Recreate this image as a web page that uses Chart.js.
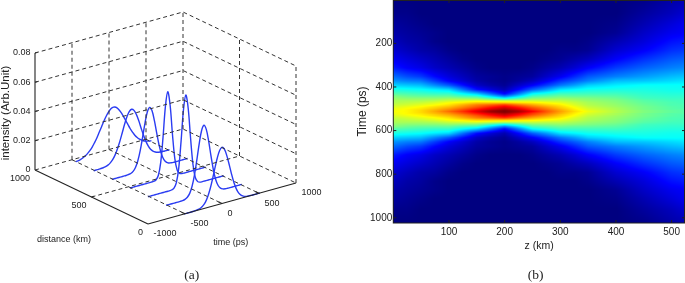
<!DOCTYPE html>
<html>
<head>
<meta charset="utf-8">
<script src="https://cdn.jsdelivr.net/npm/chart.js@4"></script>
<style>
  html, body { margin: 0; padding: 0; background: #fff; }
  body { position: relative; width: 685px; height: 283px; overflow: hidden; }
  canvas { position: absolute; top: 0; filter: blur(0.35px); }
  #waterfall { left: 0; }
  #heatmap { left: 340px; }
</style>
</head>
<body>
<canvas id="waterfall" width="340" height="283"></canvas>
<canvas id="heatmap" width="345" height="283"></canvas>
<script>
// Panel (a): pulse intensity at seven distances
const curveTimes = [-512,-480,-448,-416,-384,-352,-320,-288,-256,-224,-192,-160,-128,-96,-64,-32,0,32,64,96,128,160,192,224,256,288,320,352,384,416,448,480,512];
const curveDistances = [960, 800, 640, 480, 320, 160, 0];
const curve960 = [.0003,.0005,.0009,.0015,.0024,.0036,.0052,.0072,.0098,.0127,.0161,.0195,.0229,.0259,.0283,.0299,.0304,.0299,.0283,.0259,.0229,.0195,.0161,.0127,.0098,.0072,.0052,.0036,.0024,.0015,.0009,.0005,.0003];
const curve800 = [0,.0001,.0001,.0002,.0003,.0006,.0012,.0023,.0040,.0067,.0104,.0150,.0203,.0258,.0305,.0337,.0349,.0337,.0305,.0258,.0203,.0150,.0104,.0067,.0040,.0023,.0012,.0006,.0003,.0002,.0001,.0001,0];
const curve640 = [0,0,0,0,0,0,0,.0002,.0005,.0015,.0037,.0078,.0143,.0229,.0321,.0394,.0421,.0394,.0321,.0229,.0143,.0078,.0037,.0015,.0005,.0002,0,0,0,0,0,0,0];
const curve480 = [0,0,0,0,0,0,0,0,0,0,.0001,.0006,.0032,.0114,.0284,.0490,.0587,.0490,.0284,.0114,.0032,.0006,.0001,0,0,0,0,0,0,0,0,0,0];
const curve320 = [0,0,0,0,0,0,0,0,0,0,.0001,.0009,.0042,.0137,.0319,.0527,.0624,.0527,.0319,.0137,.0042,.0009,.0001,0,0,0,0,0,0,0,0,0,0];
const curve160 = [0,0,0,0,0,0,0,.0001,.0005,.0015,.0037,.0081,.0153,.0251,.0358,.0443,.0476,.0443,.0358,.0251,.0153,.0081,.0037,.0015,.0005,.0001,0,0,0,0,0,0,0];
const curve0 = [0,0,0,0,.0001,.0002,.0004,.0010,.0021,.0041,.0075,.0123,.0185,.0255,.0320,.0367,.0384,.0367,.0320,.0255,.0185,.0123,.0075,.0041,.0021,.0010,.0004,.0002,.0001,0,0,0,0];
const curveValues = [curve960, curve800, curve640, curve480, curve320, curve160, curve0];

const timeTicks = [-1000, -500, 0, 500, 1000];
const distanceTicks = [0, 500, 1000];
const intensityTicks = [0, 0.02, 0.04, 0.06, 0.08];
const intensityLabels = ['0', '0.02', '0.04', '0.06', '0.08'];

// Panel (b): value (percent of the colour range) per distance column,
// rows are |t - 512| and the lower half mirrors the upper one
const cellDistances = [1, 25, 50, 75, 100, 125, 150, 175, 200, 225, 250, 275, 300, 325, 350, 400, 450, 500, 524];
const cellOffsets = [0, 5, 10, 15, 20, 30, 40, 50, 60, 70, 80, 100, 120, 140, 160, 200, 240, 280, 320, 360, 400, 450, 512];
const cellRows = [
  [62,63,66,71,77,83,90,97,100,96,88,79,72,66,61,55,50,47,46],
  [61,63,66,70,75,81,88,95,99,94,85,78,71,65,60,55,50,47,46],
  [61,63,65,69,73,79,85,91,96,90,82,76,70,64,59,54,49,46,46],
  [60,62,64,67,71,76,82,88,93,87,80,74,68,63,58,54,49,46,45],
  [59,61,63,66,69,74,79,85,90,84,77,72,67,62,57,53,49,46,45],
  [57,58,60,62,65,70,75,78,82,76,71,67,64,59,55,52,48,45,45],
  [55,56,57,59,62,64,67,67,67,65,64,62,60,57,54,51,47,45,44],
  [54,54,54,55,57,58,59,57,55,56,57,56,56,54,52,50,46,44,44],
  [52,51,51,51,52,51,50,44,38,44,50,51,52,51,50,48,44,43,43],
  [50,48,47,47,47,44,42,33,24,34,44,46,48,47,47,46,43,42,42],
  [46,45,44,43,43,38,33,23,13,25,38,41,44,44,44,44,42,41,41],
  [40,39,38,36,34,24,14,9,5,13,22,28,35,37,39,40,40,39,39],
  [33,32,31,26,21,14,7,4,2,7,12,18,24,28,33,36,38,38,38],
  [27,25,24,18,12,8,4,2,1,3,6,11,17,21,25,31,32,34,35],
  [23,20,18,13,9,6,3,2,1,2,3,7,11,16,21,25,28,31,32],
  [15,12,10,7,5,3,1,0,0,0,1,3,5,8,12,18,22,25,26],
  [11,9,7,5,3,1,0,0,0,0,0,1,2,4,6,12,17,21,22],
  [8,6,4,3,1,0,0,0,0,0,0,0,1,1,2,8,12,17,18],
  [6,4,3,1,0,0,0,0,0,0,0,0,0,0,1,5,9,14,15],
  [4,3,2,1,0,0,0,0,0,0,0,0,0,0,0,2,7,11,12],
  [3,2,1,0,0,0,0,0,0,0,0,0,0,0,0,1,5,9,11],
  [1,1,0,0,0,0,0,0,0,0,0,0,0,0,0,0,3,6,8],
  [0,0,0,0,0,0,0,0,0,0,0,0,0,0,0,0,1,4,5],
];
const cellCentre = 512;
const zTicks = [100, 200, 300, 400, 500];
const timeAxisTicks = [200, 400, 600, 800, 1000];

const FONT = '"Liberation Sans", Arial, sans-serif';
const TEXT_COLOR = '#222';

// Oblique view of the box in panel (a), result is in canvas units of its hidden scales
function project(t, d, z) {
  return {
    x: 148 + (t + 1000) * 0.074 - d * 0.113,
    y: 224 - (t + 1000) * 0.0205 - d * 0.054 - z * 1462.5,
  };
}

function path(points, style) {
  return Object.assign({
    data: points.map((p) => project(p[0], p[1], p[2])),
    showLine: true,
    pointRadius: 0,
    borderColor: '#333',
    borderWidth: 1,
    borderDash: [4, 3],
    tension: 0,
  }, style);
}

// Grid and axes of the box
function boxDatasets() {
  const sets = [];
  const tMax = timeTicks[timeTicks.length - 1];
  const tMin = timeTicks[0];
  const dMax = distanceTicks[distanceTicks.length - 1];
  const zMax = intensityTicks[intensityTicks.length - 1];
  const solid = { borderDash: [], borderColor: '#222', borderWidth: 1.1 };

  intensityTicks.forEach((z) => {
    sets.push(path([[tMin, dMax, z], [tMax, dMax, z], [tMax, 0, z]]));
    if (z > 0) sets.push(path([[tMin, dMax, z], [tMin + 35, dMax, z]], solid));
  });
  timeTicks.slice(1).forEach((t) => {
    sets.push(path([[t, dMax, 0], [t, dMax, zMax]]));
  });
  distanceTicks.slice(0, 2).forEach((d) => {
    sets.push(path([[tMax, d, 0], [tMax, d, zMax]]));
  });
  timeTicks.slice(1, 4).forEach((t) => {
    sets.push(path([[t, dMax, 0], [t, 0, 0]]));
    sets.push(path([[t, 0, 0], [t, 30, 0]], solid));
  });
  sets.push(path([[tMin, 500, 0], [tMax, 500, 0]]));
  sets.push(path([[tMin, 500, 0], [tMin + 35, 500, 0]], solid));
  sets.push(path([[tMin, dMax, 0], [tMin, dMax, zMax]], solid));
  sets.push(path([[tMin, dMax, 0], [tMin, 0, 0]], solid));
  sets.push(path([[tMin, 0, 0], [tMax, 0, 0]], solid));
  return sets;
}

function curveDatasets() {
  return curveValues.map((values, i) => {
    const points = values.map((v, j) => [curveTimes[j], curveDistances[i], v]);
    return path(points, { borderDash: [], borderColor: '#2a3cf2', borderWidth: 1.4, tension: 0.35 });
  });
}

function drawText(ctx, text, x, y, font, align, rotate) {
  ctx.save();
  ctx.font = font;
  ctx.fillStyle = TEXT_COLOR;
  ctx.textAlign = align || 'center';
  ctx.textBaseline = 'middle';
  ctx.translate(x, y);
  if (rotate) ctx.rotate(rotate);
  ctx.fillText(text, 0, 0);
  ctx.restore();
}

// Tick labels and titles of panel (a), placed from the projected tick positions
const waterfallLabels = {
  id: 'waterfallLabels',
  afterDraw(chart) {
    const ctx = chart.ctx;
    const small = '9px ' + FONT;
    const { x: sx, y: sy } = chart.scales;
    intensityTicks.forEach((z, i) => {
      const p = project(timeTicks[0], distanceTicks[2], z);
      drawText(ctx, intensityLabels[i], sx.getPixelForValue(p.x) - 4.5, sy.getPixelForValue(p.y), small, 'right');
    });
    distanceTicks.forEach((d) => {
      const p = project(timeTicks[0], d, 0);
      drawText(ctx, String(d), sx.getPixelForValue(p.x) - 5, sy.getPixelForValue(p.y) + 9, small, 'right');
    });
    timeTicks.forEach((t) => {
      const p = project(t, 0, 0);
      drawText(ctx, String(t), sx.getPixelForValue(p.x) + 5.5, sy.getPixelForValue(p.y) + 10, small, 'left');
    });
    drawText(ctx, 'distance (km)', 64, 239.5, small);
    drawText(ctx, 'time (ps)', 230.7, 243, small);
    drawText(ctx, 'intensity (Arb.Unit)', 5.5, 113, '11.5px ' + FONT, 'center', -Math.PI / 2);
    drawText(ctx, '(a)', 191.7, 275, '13.5px "Liberation Serif", serif');
  },
};

new Chart(document.getElementById('waterfall'), {
  type: 'scatter',
  data: { datasets: boxDatasets().concat(curveDatasets()) },
  options: {
    responsive: false,
    animation: false,
    layout: { padding: 0 },
    plugins: { legend: { display: false }, tooltip: { enabled: false } },
    scales: {
      x: { display: false, min: 0, max: 340 },
      y: { display: false, min: 0, max: 283, reverse: true },
    },
  },
  plugins: [waterfallLabels],
});

// Position of v between the two neighbours in a sorted list
function locate(list, v) {
  let i = 0;
  while (i < list.length - 2 && list[i + 1] < v) i++;
  const f = (v - list[i]) / (list[i + 1] - list[i]);
  return [i, Math.max(0, Math.min(1, f))];
}

function cellValue(z, t) {
  const [c, fc] = locate(cellDistances, z);
  const [r, fr] = locate(cellOffsets, Math.abs(t - cellCentre));
  const top = cellRows[r][c] * (1 - fc) + cellRows[r][c + 1] * fc;
  const bottom = cellRows[r + 1][c] * (1 - fc) + cellRows[r + 1][c + 1] * fc;
  return (top * (1 - fr) + bottom * fr) / 100;
}

function channel(v) {
  return Math.round(255 * Math.max(0, Math.min(1, 1.5 - Math.abs(v))));
}

// Jet colouring of the table, one pixel at a time through the chart's scales
const heatmapCells = {
  id: 'heatmapCells',
  beforeDatasetsDraw(chart) {
    const { left, top, width, height } = chart.chartArea;
    const w = Math.ceil(width);
    const h = Math.ceil(height);
    const layer = document.createElement('canvas');
    layer.width = w;
    layer.height = h;
    const layerCtx = layer.getContext('2d');
    const image = layerCtx.createImageData(w, h);
    for (let py = 0; py < h; py++) {
      const t = chart.scales.y.getValueForPixel(top + py + 0.5);
      for (let px = 0; px < w; px++) {
        const z = chart.scales.x.getValueForPixel(left + px + 0.5);
        const v = cellValue(z, t);
        const o = (py * w + px) * 4;
        image.data[o] = channel(4 * v - 3);
        image.data[o + 1] = channel(4 * v - 2);
        image.data[o + 2] = channel(4 * v - 1);
        image.data[o + 3] = 255;
      }
    }
    layerCtx.putImageData(image, 0, 0);
    chart.ctx.drawImage(layer, left, top);
  },
  afterDraw(chart) {
    const ctx = chart.ctx;
    const { left, right, top, bottom } = chart.chartArea;
    ctx.save();
    ctx.strokeStyle = '#222';
    ctx.lineWidth = 1;
    ctx.strokeRect(left, top + 0.5, right - left - 0.5, bottom - top - 0.5);
    ctx.beginPath();
    chart.scales.x.ticks.forEach((tick) => {
      const x = chart.scales.x.getPixelForValue(tick.value);
      ctx.moveTo(x, top); ctx.lineTo(x, top + 3);
      ctx.moveTo(x, bottom); ctx.lineTo(x, bottom - 3);
    });
    chart.scales.y.ticks.forEach((tick) => {
      const y = chart.scales.y.getPixelForValue(tick.value);
      ctx.moveTo(left, y); ctx.lineTo(left + 3, y);
      ctx.moveTo(right, y); ctx.lineTo(right - 3, y);
    });
    ctx.stroke();
    ctx.restore();
    drawText(ctx, '(b)', 195.7, 275, '13.5px "Liberation Serif", serif');
  },
};

const tickLabel = (value) => String(value);

new Chart(document.getElementById('heatmap'), {
  type: 'scatter',
  data: {
    datasets: [{
      data: cellDistances.flatMap((z, c) => cellOffsets.map((o, r) => ({ x: z, y: cellCentre - o, v: cellRows[r][c] }))),
      pointRadius: 0,
    }],
  },
  options: {
    responsive: false,
    animation: false,
    layout: { padding: 0 },
    plugins: { legend: { display: false }, tooltip: { enabled: false } },
    scales: {
      x: {
        min: 0,
        max: 524,
        grid: { display: false, drawTicks: false },
        border: { display: false },
        afterBuildTicks(scale) { scale.ticks = zTicks.map((value) => ({ value })); },
        afterFit(scale) { scale.height = 60; scale.paddingLeft = 0; scale.paddingRight = 0; },
        ticks: { color: TEXT_COLOR, font: { family: FONT, size: 10 }, padding: 3, maxRotation: 0, callback: tickLabel },
        title: {
          display: true,
          text: 'z (km)',
          color: TEXT_COLOR,
          font: { family: FONT, size: 10.5 },
          padding: { top: 0, bottom: 31 },
        },
      },
      y: {
        min: 1,
        max: 1024,
        reverse: true,
        grid: { display: false, drawTicks: false },
        border: { display: false },
        afterBuildTicks(scale) { scale.ticks = timeAxisTicks.map((value) => ({ value })); },
        afterFit(scale) { scale.width = 53.3; scale.paddingTop = 0; scale.paddingBottom = 0; },
        ticks: { color: TEXT_COLOR, font: { family: FONT, size: 10 }, padding: 1, callback: tickLabel },
        title: {
          display: true,
          text: 'Time (ps)',
          color: TEXT_COLOR,
          font: { family: FONT, size: 12 },
          padding: { top: 15, bottom: 0 },
        },
      },
    },
  },
  plugins: [heatmapCells],
});
</script>
</body>
</html>
